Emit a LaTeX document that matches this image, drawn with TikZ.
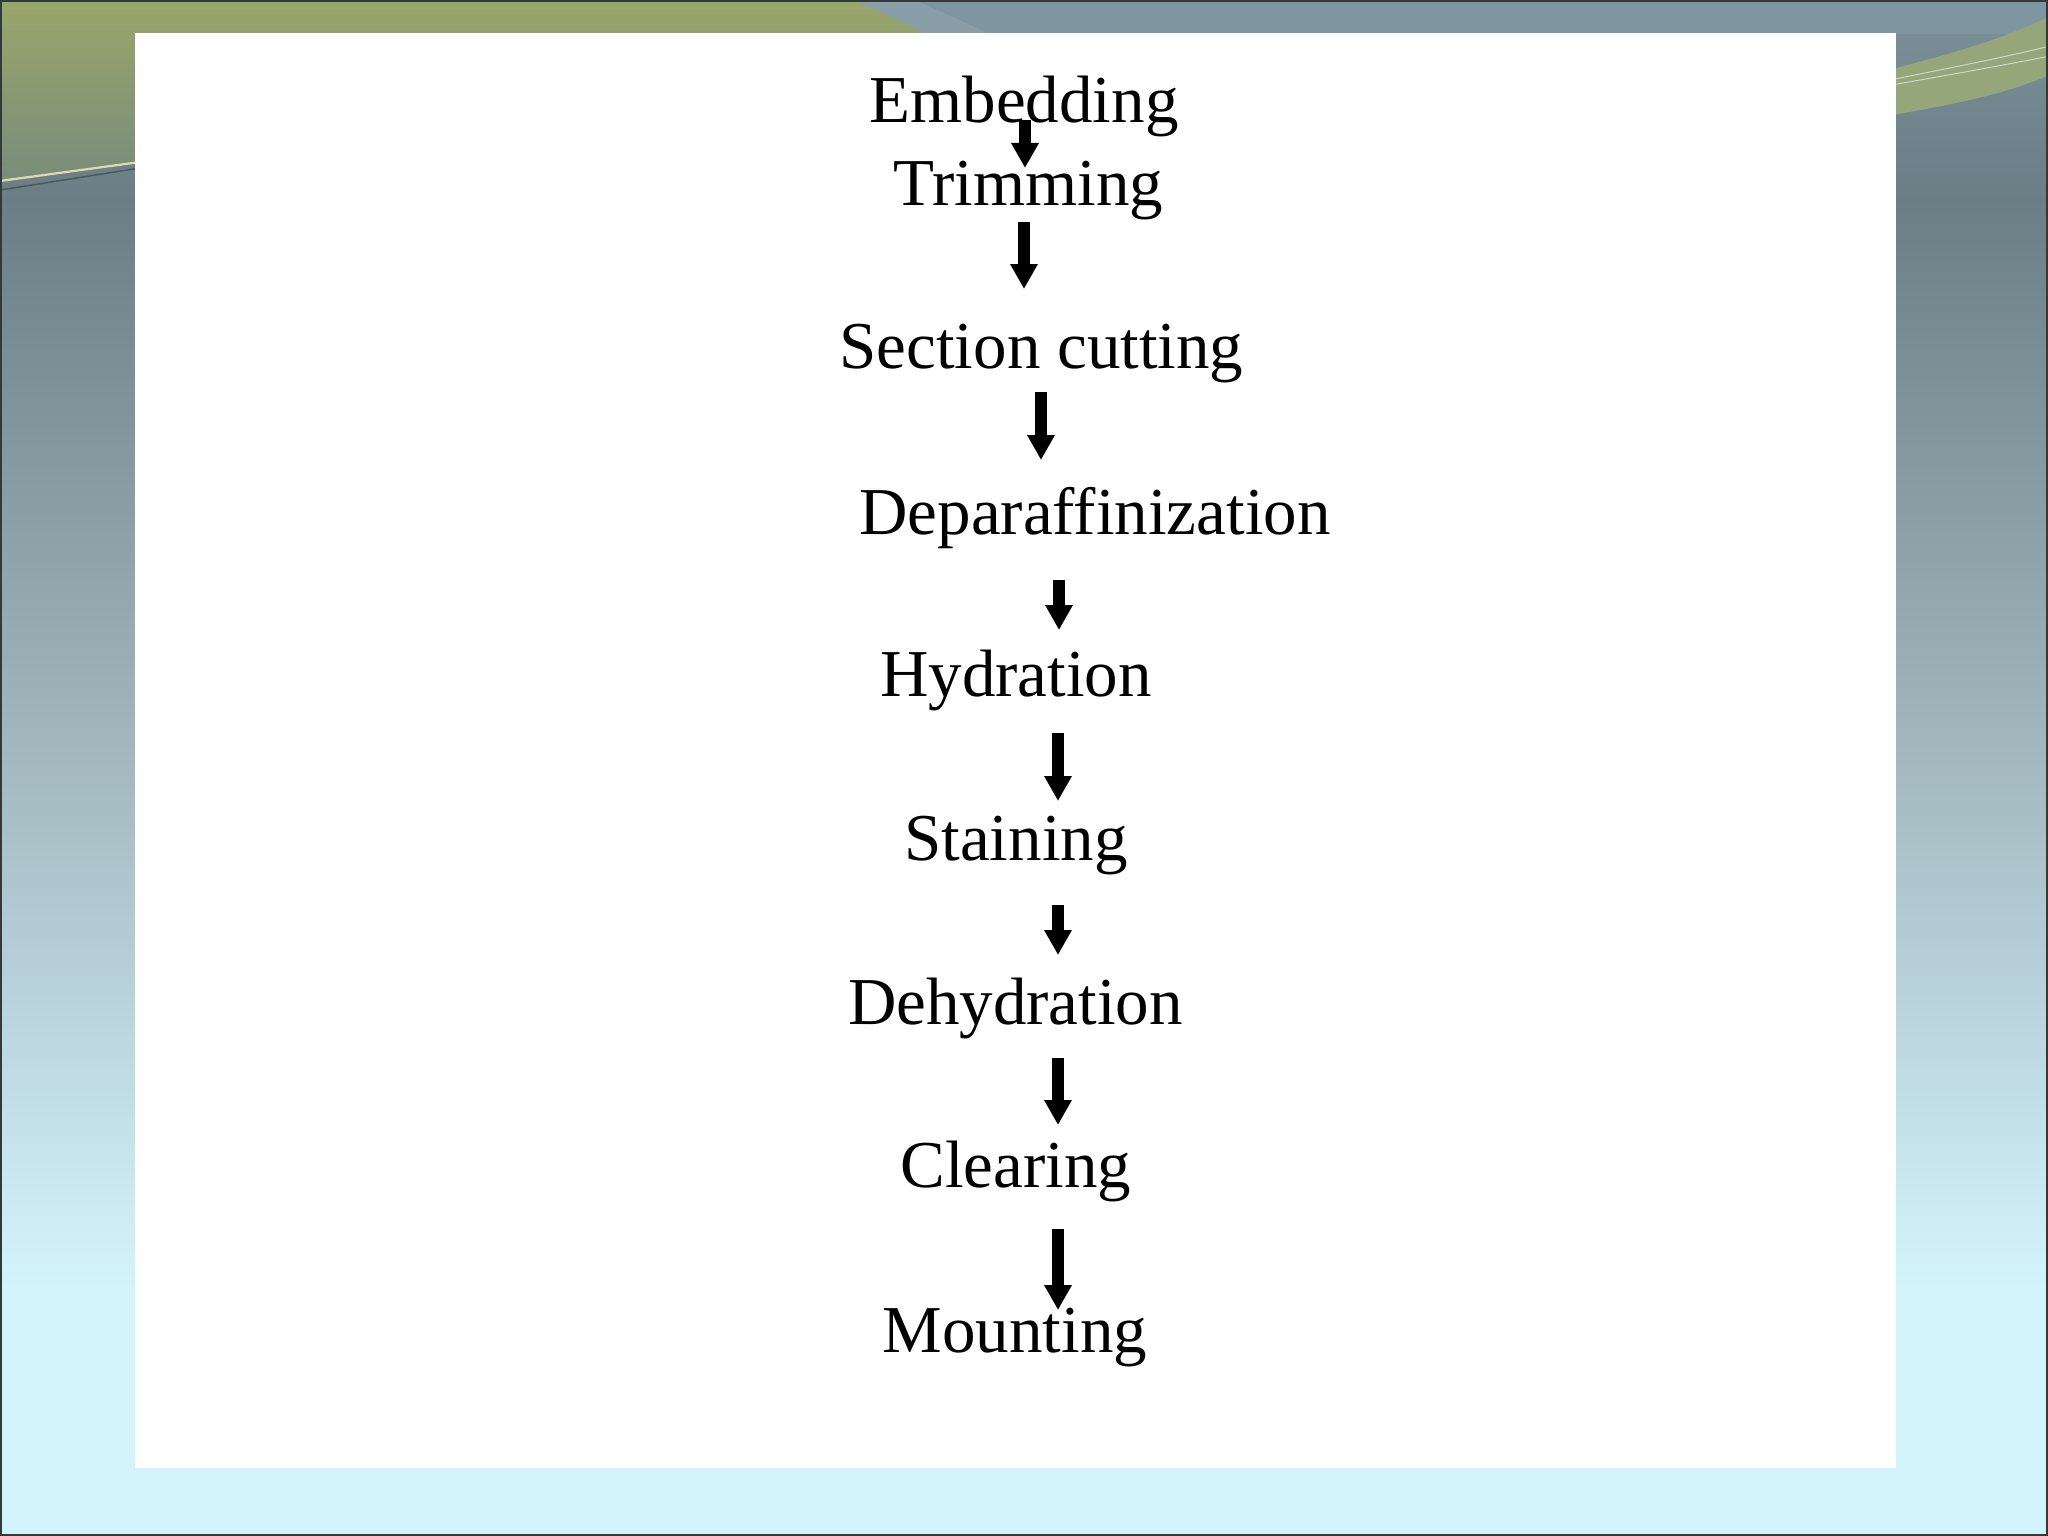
\documentclass[tikz,border=0pt]{standalone}
\usepackage{fontspec}
\setmainfont[Ligatures=NoCommon]{Liberation Serif}
\usetikzlibrary{arrows.meta}
\definecolor{bgA}{RGB}{124,144,153}
\definecolor{bgB}{RGB}{107,126,134}
\definecolor{bgC}{RGB}{163,184,191}
\definecolor{bgD}{RGB}{212,244,251}
\definecolor{oliveTop}{RGB}{153,166,106}
\definecolor{oliveBot}{RGB}{120,141,122}
\definecolor{stripBlue}{RGB}{127,150,160}
\definecolor{stripLight}{RGB}{137,158,167}
\definecolor{swooshGreen}{RGB}{148,166,122}
\definecolor{creamLine}{RGB}{226,216,172}
\definecolor{darkLine}{RGB}{74,90,92}
\definecolor{frameDark}{RGB}{48,58,60}
\tikzset{
  steptext/.style={anchor=base, inner sep=0pt, text=black,
    font=\fontsize{67}{80}\selectfont},
  blockarrow/.style={draw=black, line width=12.5pt,
    -{Triangle[width=26pt,length=25pt]}}
}
\begin{document}
\begin{tikzpicture}[x=1pt,y=-1pt]
\useasboundingbox (0,0) rectangle (2048,1536);
% background
\shade[top color=bgA, bottom color=bgB] (0,0) rectangle (2048,200);
\shade[top color=bgB, bottom color=bgC] (0,199) rectangle (2048,760);
\shade[top color=bgC, bottom color=bgD] (0,759) rectangle (2048,1290);
\fill[bgD] (0,1289) rectangle (2048,1536);
% top strip right of green
\fill[stripBlue] (855,0) rectangle (2048,34);
\fill[stripLight] (855,0) -- (915,0) -- (990,34) -- (925,34) -- cycle;
% top-left olive swoosh
\shade[top color=oliveTop, bottom color=oliveBot]
  (0,0) -- (855,0) -- (950,45) -- (600,120) -- (135,163) -- (0,181) -- cycle;
\draw[creamLine, line width=2.2pt] (0,181) -- (140,162);
\draw[darkLine, line width=1.5pt] (0,190) -- (140,168);
% right green swoosh
\fill[swooshGreen] (1880,72) .. controls (1960,52) and (2010,36) .. (2050,16)
  -- (2050,75) .. controls (2010,92) and (1960,104) .. (1880,117) -- cycle;
\draw[white!55!swooshGreen, line width=1pt] (1880,82) .. controls (1960,66) and (2010,56) .. (2050,46);
\draw[white!55!swooshGreen, line width=1pt] (1880,87) .. controls (1960,73) and (2010,64) .. (2050,56);
% frame
\draw[frameDark, line width=4pt] (0,0) rectangle (2048,1536);
% white panel
\fill[white] (135,33) rectangle (1896,1468);

% steps
\node[steptext] (emb)  at (1024,123)  {Embedding};
\node[steptext] (trim) at (1028.5,205) {Trimming};
\node[steptext] (sec)  at (1041.5,368) {Section cutting};
\node[steptext] (dep)  at (1095,534)  {Deparaffinization};
\node[steptext] (hyd)  at (1016,696)  {Hydration};
\node[steptext] (sta)  at (1016,860)  {Staining};
\node[steptext] (deh)  at (1015.5,1024) {Dehydration};
\node[steptext] (cle)  at (1016,1187) {Clearing};
\node[steptext] (mou)  at (1015,1352) {Mounting};

% arrow end points
\coordinate (a1s) at (1025,120);  \coordinate (a1e) at (1025,168);
\coordinate (a2s) at (1024,222);  \coordinate (a2e) at (1024,289);
\coordinate (a3s) at (1041,392);  \coordinate (a3e) at (1041,460);
\coordinate (a4s) at (1059,580);  \coordinate (a4e) at (1059,630);
\coordinate (a5s) at (1058,733);  \coordinate (a5e) at (1058,801);
\coordinate (a6s) at (1058,905);  \coordinate (a6e) at (1058,955);
\coordinate (a7s) at (1058,1058); \coordinate (a7e) at (1058,1125);
\coordinate (a8s) at (1058,1229); \coordinate (a8e) at (1058,1310);

\draw[blockarrow] (a1s) -- (a1e);
\draw[blockarrow] (a2s) -- (a2e);
\draw[blockarrow] (a3s) -- (a3e);
\draw[blockarrow] (a4s) -- (a4e);
\draw[blockarrow] (a5s) -- (a5e);
\draw[blockarrow] (a6s) -- (a6e);
\draw[blockarrow] (a7s) -- (a7e);
\draw[blockarrow] (a8s) -- (a8e);
\end{tikzpicture}
\end{document}
